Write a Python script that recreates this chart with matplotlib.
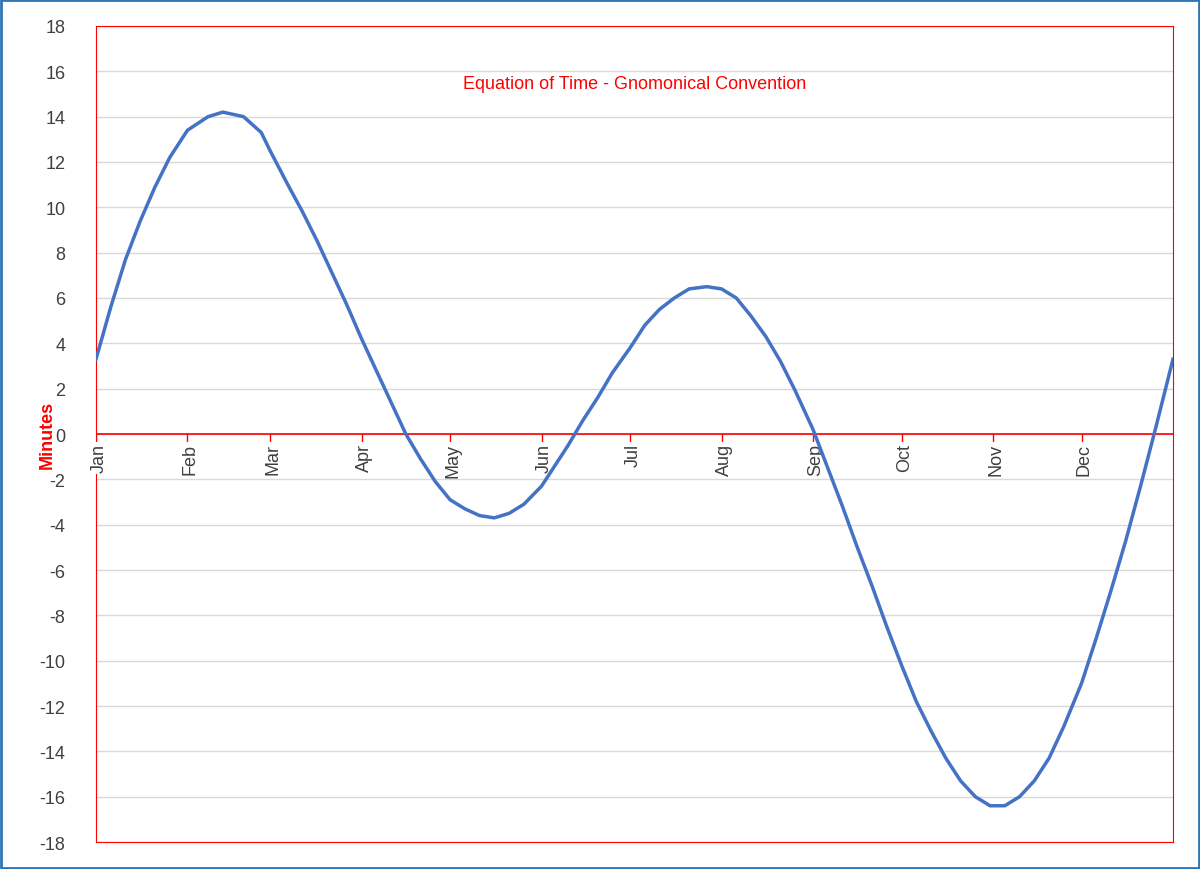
import numpy as np
import matplotlib.pyplot as plt
from matplotlib.patches import Rectangle

plt.rcParams['font.family'] = ['Liberation Sans', 'DejaVu Sans']
plt.rcParams['axes.unicode_minus'] = False

# day of year and equation of time (minutes)
days = [0, 5, 10, 15, 20, 25, 31, 38, 43, 50, 56, 59, 65, 70, 75, 80, 85, 90, 95,
        100, 105, 110, 115, 120, 125, 130, 135, 140, 145, 151, 155, 160, 165, 170,
        175, 181, 186, 191, 196, 201, 207, 212, 217, 222, 227, 232, 237, 243, 248,
        253, 258, 263, 268, 273, 278, 283, 288, 293, 298, 303, 308, 313, 318, 323,
        328, 334, 339, 344, 349, 354, 359, 365]
eot = [3.3, 5.6, 7.7, 9.4, 10.9, 12.2, 13.4, 14.0, 14.2, 14.0, 13.3, 12.5, 11.0,
       9.8, 8.5, 7.1, 5.7, 4.2, 2.8, 1.4, 0.0, -1.1, -2.1, -2.9, -3.3, -3.6, -3.7,
       -3.5, -3.1, -2.3, -1.5, -0.5, 0.6, 1.6, 2.7, 3.8, 4.8, 5.5, 6.0, 6.4, 6.5,
       6.4, 6.0, 5.2, 4.3, 3.2, 1.9, 0.2, -1.5, -3.2, -5.0, -6.7, -8.5, -10.2,
       -11.8, -13.1, -14.3, -15.3, -16.0, -16.4, -16.4, -16.0, -15.3, -14.3, -12.9,
       -11.0, -9.0, -6.9, -4.7, -2.3, 0.2, 3.3]
months = ['Jan', 'Feb', 'Mar', 'Apr', 'May', 'Jun', 'Jul', 'Aug', 'Sep', 'Oct', 'Nov', 'Dec']
month_start = [0, 31, 59, 90, 120, 151, 181, 212, 243, 273, 304, 334]

red = '#ff0000'
fig = plt.figure(figsize=(12, 8.7), dpi=100)
fig.patches.append(Rectangle((0.001, 0.001), 0.998, 0.998, transform=fig.transFigure,
                             fill=False, edgecolor='#2e75b6', linewidth=2))
ax = fig.add_axes([0.08, 0.031, 0.8975, 0.938])
ax.set_xlim(0, 365)
ax.set_ylim(-18, 18)
ax.set_yticks(np.arange(-18, 19, 2))
ax.tick_params(axis='y', length=0, labelsize=13, colors='#404040', pad=22)
ax.set_xticks([])
ax.grid(axis='y', color='#d9d9d9', linewidth=1)
ax.set_axisbelow(True)
for s in ax.spines.values():
    s.set_color(red)
ax.axhline(0, color=red, linewidth=1.2, zorder=2)
for m, d in zip(months, month_start):
    ax.plot([d, d], [0, -0.35], color=red, linewidth=1, zorder=2)
    ax.text(d + 1, -0.4, m, rotation=90, ha='center', va='top', fontsize=13, color='#404040',
            bbox=dict(facecolor='white', edgecolor='none', pad=1), zorder=3)
ax.plot(days, eot, color='#4472c4', linewidth=2.5, zorder=4)
ax.text(0.5, 0.93, 'Equation of Time - Gnomonical Convention', transform=ax.transAxes,
        ha='center', va='center', fontsize=13, color=red)
ax.set_ylabel('Minutes', color=red, fontsize=13, fontweight='bold', labelpad=-12)
fig.savefig('out.png')
